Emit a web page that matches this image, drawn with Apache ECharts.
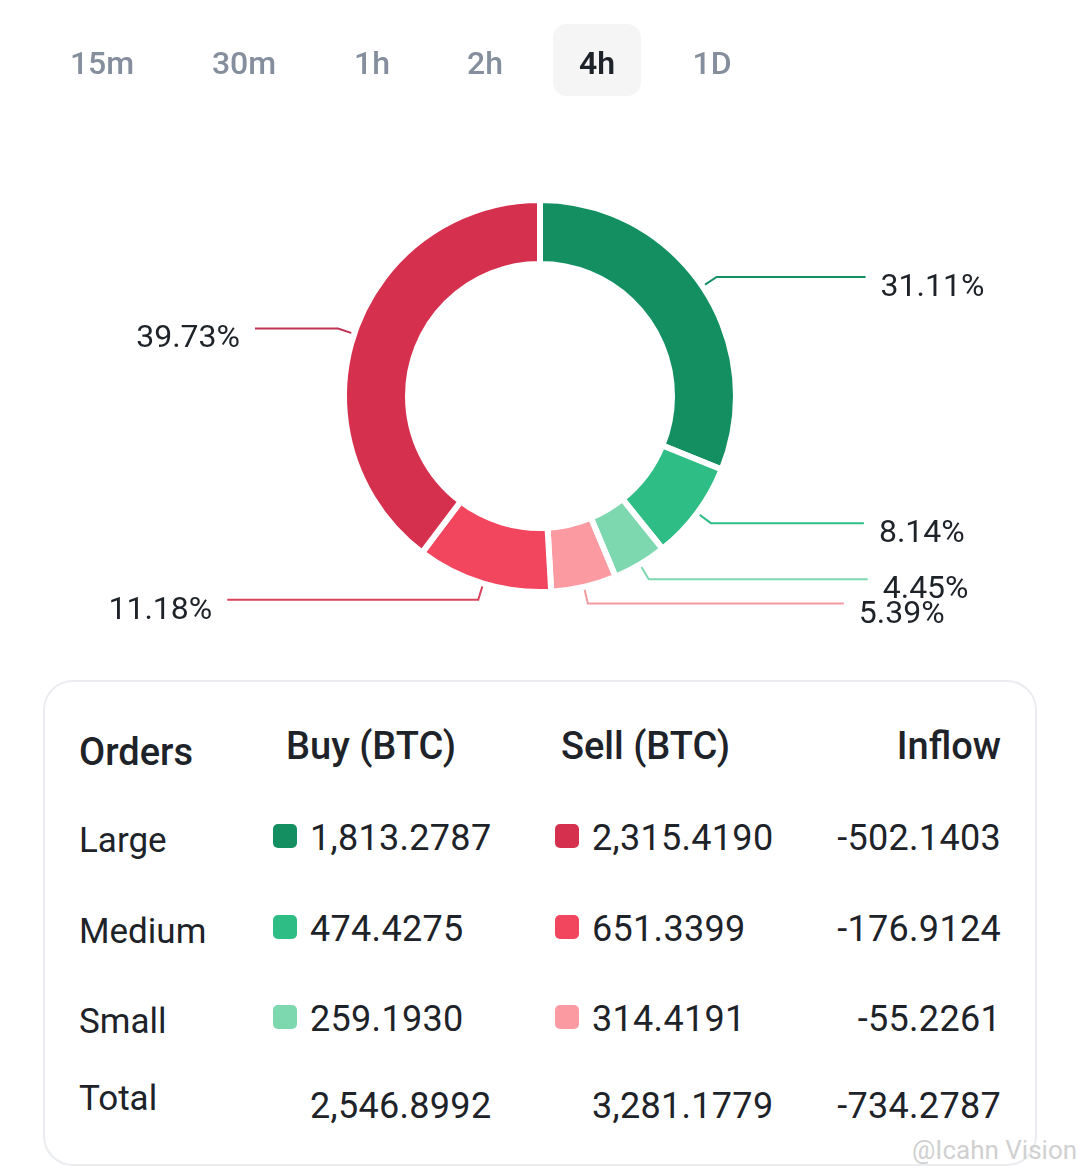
<!DOCTYPE html>
<html>
<head>
<meta charset="utf-8">
<script src="https://cdn.jsdelivr.net/npm/echarts@6/dist/echarts.min.js"></script>
<style>
  html, body { margin: 0; padding: 0; background: #ffffff; }
  body { width: 1080px; height: 1172px; position: relative; overflow: hidden; font-family: Roboto, "Noto Sans", sans-serif; color: #1e2329; }
  #chart { position: absolute; left: 0; top: 0; width: 1080px; height: 670px; }
  .tab { position: absolute; top: 24px; height: 72px; line-height: 78px; font-size: 32px; font-weight: 500; color: #848e9c; text-align: center; border-radius: 14px; }
  .tab.active { background: #f5f5f5; color: #1e2329; font-weight: 600; }
  #panel { position: absolute; left: 43px; top: 680px; width: 994px; height: 486px; border: 2px solid #eaecef; border-radius: 30px; box-sizing: border-box; }
  .cell { position: absolute; height: 44px; line-height: 44px; white-space: nowrap; }
  .hdr { font-size: 38px; font-weight: 500; }
  .lbl { font-size: 35px; font-weight: 400; }
  .val { font-size: 36px; font-weight: 400; letter-spacing: 0.3px; }
  .sq { position: absolute; width: 24px; height: 24px; border-radius: 5px; }
  #wm { position: absolute; left: 912px; top: 1135px; font-size: 26px; color: #d0d0d0; white-space: nowrap; }
</style>
</head>
<body>
<div id="chart"></div>
<div id="tabs"></div>
<div id="panel"></div>
<div id="table"></div>
<div id="wm">@Icahn Vision</div>
<script>
// ---- data ----
const timeframes = ['15m', '30m', '1h', '2h', '4h', '1D'];
const activeTimeframe = '4h';
const sliceNames = ['Large Buy', 'Medium Buy', 'Small Buy', 'Small Sell', 'Medium Sell', 'Large Sell'];
const sharePct = [31.11, 8.14, 4.45, 5.39, 11.18, 39.73];
const orderTypes = ['Large', 'Medium', 'Small'];
const buyBTC = [1813.2787, 474.4275, 259.1930];
const sellBTC = [2315.4190, 651.3399, 314.4191];
const inflowBTC = [-502.1403, -176.9124, -55.2261];
const totalLabel = 'Total';
const totalBuy = 2546.8992;
const totalSell = 3281.1779;
const totalInflow = -734.2787;
const headers = ['Orders', 'Buy (BTC)', 'Sell (BTC)', 'Inflow'];

// ---- styles ----
const sliceColors = ['#138f62', '#2ebd85', '#7dd8b0', '#fb9aa1', '#f2465f', '#d6304f'];
const lineColors = ['#138f62', '#2ebd85', '#7dd8b0', '#f39aa0', '#d9445c', '#c03552'];
const labelLen2 = [149, 153, 219, 256, 251, 83];
const buyColors = sliceColors.slice(0, 3);
const sellColors = [sliceColors[5], sliceColors[4], sliceColors[3]];

// ---- tabs ----
const tabX = [62, 200, 334, 448, 553, 670];
const tabW = [80, 88, 76, 74, 88, 84];
const tabsEl = document.getElementById('tabs');
timeframes.forEach((t, i) => {
  const d = document.createElement('div');
  d.className = 'tab' + (t === activeTimeframe ? ' active' : '');
  d.style.left = tabX[i] + 'px';
  d.style.width = tabW[i] + 'px';
  d.textContent = t;
  tabsEl.appendChild(d);
});

// ---- chart ----
const chart = echarts.init(document.getElementById('chart'), null, { renderer: 'canvas' });
chart.setOption({
  animation: false,
  series: [{
    type: 'pie',
    center: [540, 396],
    radius: [132, 196],
    startAngle: 90,
    clockwise: true,
    avoidLabelOverlap: false,
    labelLayout: { hideOverlap: false, moveOverlap: false },
    itemStyle: { borderColor: '#ffffff', borderWidth: 6 },
    label: {
      show: true,
      position: 'outside',
      formatter: p => '{p|' + p.value.toFixed(2) + '%}',
      distanceToLabelLine: 15,
      rich: {
        p: { fontFamily: 'Roboto', fontSize: 32, color: '#1e2329', padding: [22, 0, 0, 0] }
      }
    },
    labelLine: { show: true, length: 17, smooth: false, lineStyle: { width: 2 } },
    emphasis: { disabled: true },
    data: sharePct.map((v, i) => ({
      name: sliceNames[i],
      value: v,
      itemStyle: { color: sliceColors[i] },
      labelLine: { length2: labelLen2[i], lineStyle: { color: lineColors[i] } }
    }))
  }]
});

// ---- table ----
const tbl = document.getElementById('table');
function fmt(v) {
  return v.toLocaleString('en-US', { minimumFractionDigits: 4, maximumFractionDigits: 4 });
}
function addText(text, cls, cy, opts) {
  const d = document.createElement('div');
  d.className = 'cell ' + cls;
  d.style.top = (cy - 22) + 'px';
  if (opts.left != null) d.style.left = opts.left + 'px';
  if (opts.right != null) { d.style.right = (1080 - opts.right) + 'px'; d.style.textAlign = 'right'; }
  d.textContent = text;
  tbl.appendChild(d);
}
function addSq(color, left, cy) {
  const s = document.createElement('div');
  s.className = 'sq';
  s.style.left = left + 'px';
  s.style.top = (cy - 12) + 'px';
  s.style.background = color;
  tbl.appendChild(s);
}
const colOrders = 79, colBuySq = 273, colBuy = 310, colSellSq = 555, colSell = 592, colInflowR = 1001;
addText(headers[0], 'hdr', 752, { left: colOrders });
addText(headers[1], 'hdr', 746, { left: 286 });
addText(headers[2], 'hdr', 746, { left: 561 });
addText(headers[3], 'hdr', 746, { right: colInflowR });
const rowY = [838, 929, 1019];
orderTypes.forEach((name, i) => {
  const y = rowY[i];
  addText(name, 'lbl', y + 3, { left: colOrders });
  addSq(buyColors[i], colBuySq, y - 2);
  addText(fmt(buyBTC[i]), 'val', y, { left: colBuy });
  addSq(sellColors[i], colSellSq, y - 2);
  addText(fmt(sellBTC[i]), 'val', y, { left: colSell });
  addText(fmt(inflowBTC[i]), 'val', y, { right: colInflowR });
});
addText(totalLabel, 'lbl', 1099, { left: colOrders });
addText(fmt(totalBuy), 'val', 1106, { left: colBuy });
addText(fmt(totalSell), 'val', 1106, { left: colSell });
addText(fmt(totalInflow), 'val', 1106, { right: colInflowR });
</script>
</body>
</html>
